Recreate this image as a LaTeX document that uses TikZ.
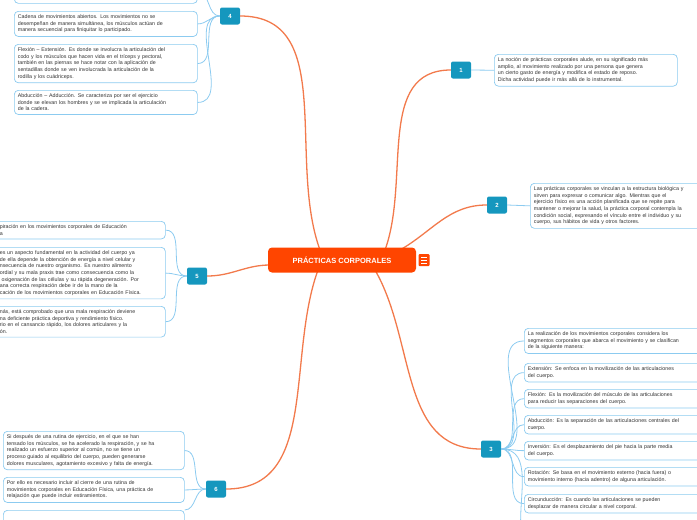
\documentclass[tikz,border=0pt]{standalone}
\usepackage{fontspec}
\setmainfont{Liberation Sans}
\begin{document}
\begin{tikzpicture}[x=1pt,y=-1pt,
  topic/.style={fill=topicc,text=white,font=\fontsize{6}{7}\selectfont\bfseries,minimum width=20pt,minimum height=17pt,rounded corners=2pt,inner sep=0pt},
  box/.style={draw=boxc,line width=0.7pt,rounded corners=4pt,anchor=north west,align=left,font=\fontsize{5.3}{6.6}\selectfont,text=black!80,inner sep=3.5pt,fill=white},
  oc/.style={draw=orc,line width=1.3pt},
  bc/.style={draw=boxc,line width=0.8pt}]
\definecolor{topicc}{HTML}{1597BE}
\definecolor{boxc}{HTML}{8CCBF0}
\definecolor{orc}{HTML}{F27A4C}
\definecolor{mainc}{HTML}{FF4500}
\useasboundingbox (0,0) rectangle (697,520);
\clip (0,0) rectangle (697,520);
% topics
\node[topic] (t1) at (461,70) {1};
\node[topic] (t2) at (497,205) {2};
\node[topic] (t3) at (491,449) {3};
\node[topic] (t4) at (230,16) {4};
\node[topic] (t5) at (197,276) {5};
\node[topic] (t6) at (216,489) {6};
% orange connectors
\draw[oc] (385,250) to[out=70,in=180] (t1.west);
\draw[oc] (400,250) to[out=30,in=180] (t2.west);
\draw[oc] (375,270) to[out=-60,in=180] (t3.west);
\draw[oc] (320,250) to[out=110,in=0] (t4.east);
\draw[oc] (270,265) to[out=180,in=0] (t5.east);
\draw[oc] (318,270) to[out=-110,in=0] (t6.east);
% central
\node[fill=mainc,text=white,rounded corners=4pt,minimum width=148pt,minimum height=25pt,font=\fontsize{7.5}{9}\selectfont\bfseries] (c) at (342,260) {PRÁCTICAS CORPORALES};
\node[fill=mainc,minimum width=11pt,minimum height=12pt,inner sep=0pt,rounded corners=1pt] (ic) at (424,260) {};
\draw[white,line width=0.7pt] (421,257)--(427,257) (421,260)--(427,260) (421,263)--(427,263);
% boxes 1,2
\node[box,text width=176pt] (b1) at (494,54) {La noción de prácticas corporales alude, en su significado más\\amplio, al movimiento realizado por una persona que genera\\un cierto gasto de energía y modifica el estado de reposo.\\Dicha actividad puede ir más allá de lo instrumental.};
\draw[bc] (t1.east) -- (b1.west);
\node[box,text width=176pt] (b2) at (530,183) {Las prácticas corporales se vinculan a la estructura biológica y\\sirven para expresar o comunicar algo. Mientras que el\\ejercicio físico es una acción planificada que se repite para\\mantener o mejorar la salud, la práctica corporal contempla la\\condición social, expresando el vínculo entre el individuo y su\\cuerpo, sus hábitos de vida y otros factores.};
\draw[bc] (t2.east) -- (b2.west);
% boxes 3
\node[box,text width=180pt] (c1) at (524,328) {La realización de los movimientos corporales considera los\\segmentos corporales que abarca el movimiento y se clasifican\\de la siguiente manera:};
\node[box,text width=180pt] (c2) at (524,363) {Extensión: Se enfoca en la movilización de las articulaciones\\del cuerpo.};
\node[box,text width=180pt] (c3) at (524,389) {Flexión: Es la movilización del músculo de las articulaciones\\para reducir las separaciones del cuerpo.};
\node[box,text width=180pt] (c4) at (524,415) {Abducción: Es la separación de las articulaciones centrales del\\cuerpo.};
\node[box,text width=180pt] (c5) at (524,441) {Inversión: Es el desplazamiento del pie hacia la parte media\\del cuerpo.};
\node[box,text width=180pt] (c6) at (524,467) {Rotación: Se basa en el movimiento externo (hacia fuera) o\\movimiento interno (hacia adentro) de alguna articulación.};
\node[box,text width=180pt] (c7) at (524,494) {Circunducción: Es cuando las articulaciones se pueden\\desplazar de manera circular a nivel corporal.};
\coordinate (c8) at (521,530);
\foreach \b in {c1,c2,c3,c4,c5,c6,c7} \draw[bc] (t3.east) to[out=0,in=180] (\b.west);
\draw[bc] (t3.east) to[out=0,in=95] (c8);
% boxes 4
\node[box,text width=176pt,minimum height=23pt] (d0) at (14,-20) {};
\node[box,text width=176pt] (d1) at (14,11) {Cadena de movimientos abiertos. Los movimientos no se\\desempeñan de manera simultánea, los músculos actúan de\\manera secuencial para finiquitar lo participado.};
\node[box,text width=176pt] (d2) at (14,44) {Flexión – Extensión. Es donde se involucra la articulación del\\codo y los músculos que hacen vida en el tríceps y pectoral,\\también en las piernas se hace notar con la aplicación de\\sentadillas donde se ven involucrada la articulación de la\\rodilla y los cuádriceps.};
\node[box,text width=176pt] (d3) at (14,90) {Abducción – Adducción. Se caracteriza por ser el ejercicio\\donde se elevan los hombres y se ve implicada la articulación\\de la cadera.};
\foreach \b in {d0,d1,d2,d3} \draw[bc] (t4.west) to[out=180,in=0] (\b.east);
% boxes 5
\node[box,text width=168pt] (e1) at (-10,221) {\hspace*{6pt}piración en los movimientos corporales de Educación\\\hspace*{6pt}a};
\node[box,text width=168pt] (e2) at (-10,247) {\hspace*{6pt}es un aspecto fundamental en la actividad del cuerpo ya\\\hspace*{6pt}de ella depende la obtención de energía a nivel celular y\\\hspace*{6pt}nsecuencia de nuestro organismo. Es nuestro alimento\\\hspace*{6pt}ordial y su mala praxis trae como consecuencia como la\\\hspace*{6pt} oxigenación de las células y su rápida degeneración. Por\\\hspace*{6pt}ana correcta respiración debe ir de la mano de la\\\hspace*{6pt}cación de los movimientos corporales en Educación Física.};
\node[box,text width=168pt] (e3) at (-10,306) {\hspace*{6pt}nás, está comprobado que una mala respiración deviene\\\hspace*{6pt}na deficiente práctica deportiva y rendimiento físico.\\\hspace*{6pt}rio en el cansancio rápido, los dolores articulares y la\\\hspace*{6pt}ón.};
\foreach \b in {e1,e2,e3} \draw[bc] (t5.west) to[out=180,in=0] (\b.east);
% boxes 6
\node[box,text width=174pt] (f1) at (3,431) {Si después de una rutina de ejercicio, en el que se han\\tensado los músculos, se ha acelerado la respiración, y se ha\\realizado un esfuerzo superior al común, no se tiene un\\proceso guiado al equilibrio del cuerpo, pueden generarse\\dolores musculares, agotamiento excesivo y falta de energía.};
\node[box,text width=174pt] (f2) at (3,477) {Por ello es necesario incluir al cierre de una rutina de\\movimientos corporales en Educación Física, una práctica de\\relajación que puede incluir estiramientos.};
\node[box,text width=174pt,minimum height=30pt] (f3) at (3,510) {La práctica de la Yoga es la más recomendada para\\\ };
\foreach \b in {f1,f2} \draw[bc] (t6.west) to[out=180,in=0] (\b.east);
\draw[bc] (t6.west) to[out=180,in=0] (f3.north east);
\end{tikzpicture}
\end{document}
